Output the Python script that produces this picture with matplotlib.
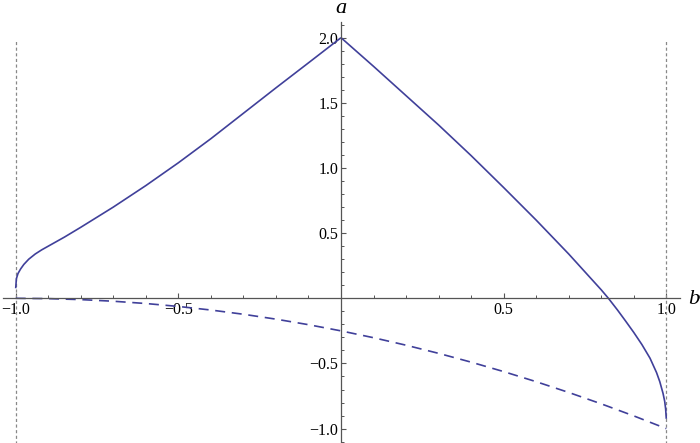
import matplotlib
matplotlib.use("Agg")
from matplotlib import pyplot as plt
from matplotlib.ticker import FixedLocator, MultipleLocator

# 实线: 左支 (b 从 -1 到 0) 和右支 (b 从 0 到 1)
b_left = [-1.0, -0.998, -0.993, -0.985, -0.975, -0.96, -0.94, -0.92, -0.9,
          -0.85, -0.8, -0.7, -0.6, -0.5, -0.4, -0.3, -0.2, -0.1, 0.0]
a_left = [0.077, 0.15, 0.19, 0.225, 0.26, 0.30, 0.34, 0.372, 0.40,
          0.47, 0.545, 0.70, 0.865, 1.04, 1.225, 1.42, 1.615, 1.807, 2.0]

b_right = [0.0, 0.1, 0.2, 0.3, 0.4, 0.5, 0.6, 0.7, 0.8, 0.822, 0.85, 0.875,
           0.9, 0.925, 0.95, 0.97, 0.98, 0.99, 0.995, 0.998, 1.0]
a_right = [2.0, 1.78, 1.555, 1.33, 1.095, 0.85, 0.60, 0.34, 0.065, 0.0, -0.09, -0.175,
           -0.262, -0.355, -0.46, -0.57, -0.64, -0.73, -0.79, -0.85, -0.925]

# 虚线
b_dash = [-1.0, -0.9, -0.8, -0.7, -0.6, -0.5, -0.4, -0.3, -0.2, -0.1, 0.0,
          0.1, 0.2, 0.3, 0.4, 0.5, 0.6, 0.7, 0.8, 0.9, 1.0]
a_dash = [0.0, -0.0025, -0.01, -0.0225, -0.04, -0.0625, -0.09, -0.1225, -0.16, -0.2025, -0.25,
          -0.3025, -0.36, -0.4225, -0.49, -0.5625, -0.64, -0.7225, -0.81, -0.9025, -1.0]

# 边界竖线
bounds = [-1.0, 1.0]

x_ticks = [-1.0, -0.5, 0.5, 1.0]
x_labels = ["\u22121.0", "\u22120.5", "0.5", "1.0"]
y_ticks = [-1.0, -0.5, 0.5, 1.0, 1.5, 2.0]
y_labels = ["\u22121.0", "\u22120.5", "0.5", "1.0", "1.5", "2.0"]

line_color = "#40409a"
axis_color = "#555555"

fig = plt.figure(figsize=(7, 4.43), dpi=100)
ax = fig.add_axes([0, 0, 1, 1])
ax.set_xlim(-1.0483, 1.1036)
ax.set_ylim(-1.1105, 2.2893)

ax.vlines(bounds, -1.12, 1.98, colors="#888888", linestyles=(0, (2.5, 2)), linewidth=0.9)

ax.plot(b_left, a_left, color=line_color, linewidth=1.2, solid_capstyle="butt")
ax.plot(b_right, a_right, color=line_color, linewidth=1.2, solid_capstyle="butt")
ax.plot(b_dash, a_dash, color=line_color, linewidth=1.2, dashes=(6, 4))

# 坐标轴交于原点
for side in ["top", "right"]:
    ax.spines[side].set_visible(False)
ax.spines["left"].set_position(("data", 0))
ax.spines["bottom"].set_position(("data", 0))
ax.spines["left"].set_bounds(-1.12, 2.123)
ax.spines["bottom"].set_bounds(-1.039, 1.042)
for side in ["left", "bottom"]:
    ax.spines[side].set_color(axis_color)
    ax.spines[side].set_linewidth(0.9)

serif = "Liberation Serif"
ax.xaxis.set_major_locator(FixedLocator(x_ticks))
ax.set_xticklabels(x_labels, fontfamily=serif, fontsize=11.5)
ax.xaxis.set_minor_locator(MultipleLocator(0.1))
ax.yaxis.set_major_locator(FixedLocator(y_ticks))
ax.set_yticklabels(y_labels, fontfamily=serif, fontsize=11.5)
ax.yaxis.set_minor_locator(MultipleLocator(0.1))
ax.tick_params(which="major", direction="in", length=3.5, width=0.8, color=axis_color, pad=3)
ax.tick_params(which="minor", direction="in", length=2, width=0.7, color=axis_color)
ax.tick_params(axis="y", pad=2)

ax.text(0, 2.192, "a", fontfamily=serif, fontstyle="italic", fontsize=16,
        ha="center", va="baseline")
ax.text(1.066, -0.013, "b", fontfamily=serif, fontstyle="italic", fontsize=16,
        ha="left", va="center")

fig.savefig("out.png", dpi=100)
